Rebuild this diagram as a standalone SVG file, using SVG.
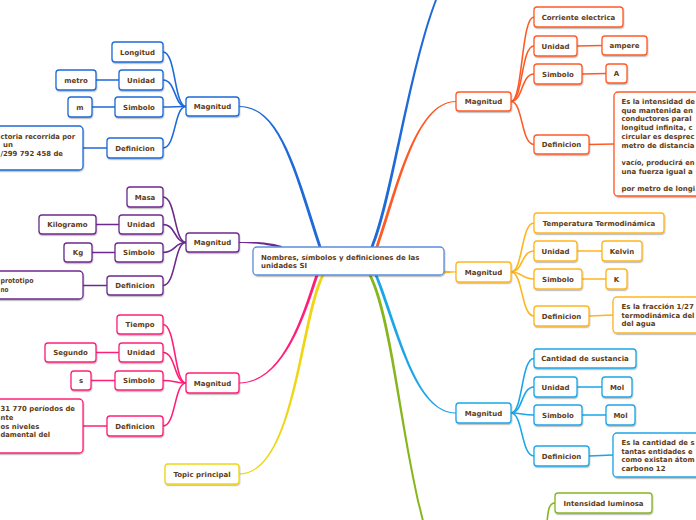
<svg xmlns="http://www.w3.org/2000/svg" width="696" height="520" viewBox="0 0 696 520">
<defs>
<filter id="sh" x="-20%" y="-20%" width="140%" height="160%">
<feDropShadow dx="0.5" dy="1.2" stdDeviation="0.7" flood-color="#000" flood-opacity="0.28"/>
</filter>
<style>
rect{fill:#fff;stroke-width:1.3;filter:url(#sh)}
text{font-family:"DejaVu Sans","Verdana",sans-serif;font-weight:bold;font-size:7px;fill:#603b18}
.c{text-anchor:middle}
.ln{fill:none;stroke-width:1.6;stroke-linecap:round}
.b{stroke:#1e6ad8}.bf{fill:#1e6ad8}
.p{stroke:#6d2a8e}.pf{fill:#6d2a8e}
.k{stroke:#ff1f78}.kf{fill:#ff1f78}
.y{stroke:#efd615}.yf{fill:#efd615}
.o{stroke:#ff5a26}.of{fill:#ff5a26}
.g{stroke:#ffb51c}.gf{fill:#ffb51c}
.cy{stroke:#1aa6e8}.cyf{fill:#1aa6e8}
.gr{stroke:#86b51c}.grf{fill:#86b51c}
.cen{stroke:#5b8fe0}
</style>
</defs>
<rect width="696" height="520" style="fill:#fff;stroke:none;filter:none"/>

<g id="connectors">
<path class="bf" d="M318.5,247 C293.5,170 279,107 239,107 L239,106 C281,106 296.5,170 321.5,247 Z"/>
<path class="bf" d="M370.5,247 C390.5,200 409,60 439,-10 L441,-10 C411,60 393.5,200 373.5,247 Z"/>
<path class="of" d="M375.5,247 C395.5,190 414,101 456,101 L456,102 C416,102 398.5,190 378.5,247 Z"/>
<path class="pf" d="M282,248 C265,244.5 255,243 239,243 L239,242 C255,242 265,241.5 282,246 Z"/>
<path class="kf" d="M315.5,275 C303.5,310 284,382.5 239,382.5 L239,383.5 C286,383.5 306.5,310 318.5,275 Z"/>
<path class="yf" d="M321.5,275 C298.5,320 294,473.5 239,473.5 L239,474.5 C296,474.5 301.5,320 324.5,275 Z"/>
<path class="cyf" d="M374.5,275 C396.5,330 414,413.5 456,413.5 L456,412.5 C416,412.5 399.5,330 377.5,275 Z"/>
<path class="grf" d="M368.5,275 C390.5,320 399,430 423,525 L425,525 C401,430 393.5,320 371.5,275 Z"/>
<path class="gf" d="M444,270.8 C450,271 452,271.5 456,271.5 L456,272.5 C452,272.5 450,273 444,273.4 Z"/>

<path class="ln b" d="M186,106.5 C174,106.5 176,52 163,52"/>
<path class="ln b" d="M186,106.5 C174,106.5 176,80 163,80"/>
<path class="ln b" d="M186,106.5 C174,106.5 176,107 163,107"/>
<path class="ln b" d="M186,106.5 C174,106.5 176,148 163,148"/>
<path class="ln b" d="M119,80 H96 M115,107 H92 M107,148 H83"/>
<path class="ln p" d="M186,242.5 C174,242.5 176,197 163,197"/>
<path class="ln p" d="M186,242.5 C174,242.5 176,224.5 163,224.5"/>
<path class="ln p" d="M186,242.5 C174,242.5 176,252.5 163,252.5"/>
<path class="ln p" d="M186,242.5 C174,242.5 176,285.5 163,285.5"/>
<path class="ln p" d="M119,224.5 H96 M115,252.5 H92 M107,285.5 H83"/>
<path class="ln k" d="M186,383 C174,383 176,324.5 163,324.5"/>
<path class="ln k" d="M186,383 C174,383 176,352.5 163,352.5"/>
<path class="ln k" d="M186,383 C174,383 176,380.5 163,380.5"/>
<path class="ln k" d="M186,383 C174,383 176,426 163,426"/>
<path class="ln k" d="M119,352.5 H96 M115,380.5 H91 M107,426 H83"/>
<path class="ln o" d="M511,101.5 C523,101.5 521,17 534,17"/>
<path class="ln o" d="M511,101.5 C523,101.5 521,46 534,46"/>
<path class="ln o" d="M511,101.5 C523,101.5 521,74 534,74"/>
<path class="ln o" d="M511,101.5 C523,101.5 521,144.5 534,144.5"/>
<path class="ln o" d="M577,46 L602,45.5 M582,74 L606,73.5 M589,144.5 L614,144"/>
<path class="ln g" d="M511,272 C523,272 521,223 534,223"/>
<path class="ln g" d="M511,272 C523,272 521,251 534,251"/>
<path class="ln g" d="M511,272 C523,272 521,279 534,279"/>
<path class="ln g" d="M511,272 C523,272 521,316 534,316"/>
<path class="ln g" d="M577,251 H602 M582,279 H606 M589,316 L613,315"/>
<path class="ln cy" d="M511,413 C523,413 521,358.5 534,358.5"/>
<path class="ln cy" d="M511,413 C523,413 521,387 534,387"/>
<path class="ln cy" d="M511,413 C523,413 521,415 534,415"/>
<path class="ln cy" d="M511,413 C523,413 521,456 534,456"/>
<path class="ln cy" d="M577,387 H602 M582,415 H606 M589,456 L613,455"/>
<path class="ln gr" d="M547,523 C548,510 549,503 555,503"/>
</g>

<g id="central">
<rect class="cen" x="253" y="247" width="191" height="28" rx="4"/>
<text x="261" y="259.5">Nombres, símbolos y definiciones de las</text>
<text x="261" y="268">unidades SI</text>
</g>

<g id="b-mag"><rect class="b" x="186" y="97" width="53" height="19" rx="3"/><text class="c" x="212.5" y="109">Magnitud</text></g>
<g id="b-long"><rect class="b" x="112" y="42" width="51" height="20" rx="3"/><text class="c" x="137.5" y="54.5">Longitud</text></g>
<g id="b-uni"><rect class="b" x="119" y="70" width="44" height="20" rx="3"/><text class="c" x="141" y="82.5">Unidad</text></g>
<g id="b-metro"><rect class="b" x="56" y="70" width="40" height="20" rx="3"/><text class="c" x="76" y="82.5">metro</text></g>
<g id="b-sim"><rect class="b" x="115" y="97" width="48" height="20" rx="3"/><text class="c" x="139" y="109.5">Simbolo</text></g>
<g id="b-m"><rect class="b" x="68" y="97" width="24" height="20" rx="3"/><text class="c" x="80" y="109.5">m</text></g>
<g id="b-def"><rect class="b" x="107" y="138" width="56" height="20" rx="3"/><text class="c" x="135" y="150.5">Definicion</text></g>
<g id="b-deftxt"><rect class="b" x="-10" y="126" width="93" height="44" rx="4"/>
<text x="0.5" y="138.5" textLength="74.5" lengthAdjust="spacingAndGlyphs">ctoria recorrida por</text>
<text x="3" y="147">un</text>
<text x="0.5" y="155.5" textLength="62.5" lengthAdjust="spacingAndGlyphs">/299 792 458 de</text></g>

<g id="p-mag"><rect class="p" x="186" y="233" width="53" height="19" rx="3"/><text class="c" x="212.5" y="245">Magnitud</text></g>
<g id="p-masa"><rect class="p" x="127" y="187" width="36" height="20" rx="3"/><text class="c" x="145" y="199.5">Masa</text></g>
<g id="p-uni"><rect class="p" x="119" y="215" width="44" height="19" rx="3"/><text class="c" x="141" y="227">Unidad</text></g>
<g id="p-kilo"><rect class="p" x="39" y="215" width="57" height="19" rx="3"/><text class="c" x="67.5" y="227">Kilogramo</text></g>
<g id="p-sim"><rect class="p" x="115" y="243" width="48" height="19" rx="3"/><text class="c" x="139" y="255">Simbolo</text></g>
<g id="p-kg"><rect class="p" x="64" y="243" width="28" height="19" rx="3"/><text class="c" x="78" y="255">Kg</text></g>
<g id="p-def"><rect class="p" x="107" y="276" width="56" height="19" rx="3"/><text class="c" x="135" y="288">Definicion</text></g>
<g id="p-deftxt"><rect class="p" x="-10" y="271" width="93" height="28" rx="4"/>
<text x="0.5" y="282.5" textLength="33" lengthAdjust="spacingAndGlyphs">prototipo</text>
<text x="0.5" y="291.5" textLength="8" lengthAdjust="spacingAndGlyphs">no</text></g>

<g id="k-mag"><rect class="k" x="186" y="373" width="53" height="20" rx="3"/><text class="c" x="212.5" y="385.5">Magnitud</text></g>
<g id="k-tiempo"><rect class="k" x="117" y="315" width="46" height="19" rx="3"/><text class="c" x="140" y="327">Tiempo</text></g>
<g id="k-uni"><rect class="k" x="119" y="343" width="44" height="19" rx="3"/><text class="c" x="141" y="355">Unidad</text></g>
<g id="k-seg"><rect class="k" x="45" y="343" width="51" height="19" rx="3"/><text class="c" x="70.5" y="355">Segundo</text></g>
<g id="k-sim"><rect class="k" x="115" y="371" width="48" height="19" rx="3"/><text class="c" x="139" y="383">Simbolo</text></g>
<g id="k-s"><rect class="k" x="71" y="371" width="20" height="19" rx="3"/><text class="c" x="81" y="383">s</text></g>
<g id="k-def"><rect class="k" x="107" y="416" width="56" height="20" rx="3"/><text class="c" x="135" y="428.5">Definicion</text></g>
<g id="k-deftxt"><rect class="k" x="-10" y="399" width="93" height="54" rx="4"/>
<text x="0.5" y="411" textLength="74.5" lengthAdjust="spacingAndGlyphs">31 770 períodos de</text>
<text x="0.5" y="420" textLength="12.8" lengthAdjust="spacingAndGlyphs">nte</text>
<text x="0.5" y="428.5" textLength="38.8" lengthAdjust="spacingAndGlyphs">os niveles</text>
<text x="0.5" y="437" textLength="49.5" lengthAdjust="spacingAndGlyphs">damental del</text></g>

<g id="topic"><rect class="y" x="165" y="464" width="74" height="20" rx="3"/><text class="c" x="202" y="476.5">Topic principal</text></g>

<g id="o-mag"><rect class="o" x="456" y="92" width="55" height="19" rx="3"/><text class="c" x="483.5" y="104">Magnitud</text></g>
<g id="o-corr"><rect class="o" x="534" y="7" width="89" height="20" rx="3"/><text class="c" x="578.5" y="19.5">Corriente electrica</text></g>
<g id="o-uni"><rect class="o" x="534" y="36" width="43" height="20" rx="3"/><text class="c" x="555.5" y="48.5">Unidad</text></g>
<g id="o-amp"><rect class="o" x="602" y="36" width="45" height="19" rx="3"/><text class="c" x="624.5" y="48">ampere</text></g>
<g id="o-sim"><rect class="o" x="534" y="64" width="48" height="20" rx="3"/><text class="c" x="558" y="76.5">Simbolo</text></g>
<g id="o-a"><rect class="o" x="606" y="64" width="21" height="19" rx="3"/><text class="c" x="616.5" y="76">A</text></g>
<g id="o-def"><rect class="o" x="534" y="135" width="55" height="19" rx="3"/><text class="c" x="561.5" y="147">Definicion</text></g>
<g id="o-deftxt"><rect class="o" x="614" y="92" width="100" height="104" rx="4"/>
<text x="621.5" y="104" textLength="73.5" lengthAdjust="spacingAndGlyphs">Es la intensidad de</text>
<text x="621.5" y="112.7">que mantenida en</text>
<text x="621.5" y="121.4" textLength="70" lengthAdjust="spacingAndGlyphs">conductores paral</text>
<text x="621.5" y="130.1" textLength="71" lengthAdjust="spacingAndGlyphs">longitud infinita, c</text>
<text x="621.5" y="138.8" textLength="73" lengthAdjust="spacingAndGlyphs">circular es desprec</text>
<text x="621.5" y="147.5" textLength="73" lengthAdjust="spacingAndGlyphs">metro de distancia</text>
<text x="621.5" y="164.9" textLength="73" lengthAdjust="spacingAndGlyphs">vacío, producirá en</text>
<text x="621.5" y="173.6">una fuerza igual a</text>
<text x="621.5" y="191">por metro de longi</text></g>

<g id="g-mag"><rect class="g" x="456" y="262" width="55" height="20" rx="3"/><text class="c" x="483.5" y="274.5">Magnitud</text></g>
<g id="g-temp"><rect class="g" x="534" y="213" width="130" height="20" rx="3"/><text class="c" x="599" y="225.5">Temperatura Termodinámica</text></g>
<g id="g-uni"><rect class="g" x="534" y="241" width="43" height="20" rx="3"/><text class="c" x="555.5" y="253.5">Unidad</text></g>
<g id="g-kel"><rect class="g" x="602" y="241" width="40" height="20" rx="3"/><text class="c" x="622" y="253.5">Kelvin</text></g>
<g id="g-sim"><rect class="g" x="534" y="269" width="48" height="20" rx="3"/><text class="c" x="558" y="281.5">Simbolo</text></g>
<g id="g-k"><rect class="g" x="606" y="269" width="21" height="20" rx="3"/><text class="c" x="616.5" y="281.5">K</text></g>
<g id="g-def"><rect class="g" x="534" y="306" width="55" height="20" rx="3"/><text class="c" x="561.5" y="318.5">Definicion</text></g>
<g id="g-deftxt"><rect class="g" x="613" y="297" width="100" height="36" rx="4"/>
<text x="621.5" y="309">Es la fracción 1/27</text>
<text x="621.5" y="317.5" textLength="73" lengthAdjust="spacingAndGlyphs">termodinámica del</text>
<text x="621.5" y="326">del agua</text></g>

<g id="c-mag"><rect class="cy" x="456" y="403" width="55" height="20" rx="3"/><text class="c" x="483.5" y="415.5">Magnitud</text></g>
<g id="c-cant"><rect class="cy" x="534" y="349" width="102" height="19" rx="3"/><text class="c" x="585" y="361">Cantidad de sustancia</text></g>
<g id="c-uni"><rect class="cy" x="534" y="377" width="43" height="20" rx="3"/><text class="c" x="555.5" y="389.5">Unidad</text></g>
<g id="c-mol1"><rect class="cy" x="602" y="377" width="30" height="20" rx="3"/><text class="c" x="617" y="389.5">Mol</text></g>
<g id="c-sim"><rect class="cy" x="534" y="405" width="48" height="20" rx="3"/><text class="c" x="558" y="417.5">Simbolo</text></g>
<g id="c-mol2"><rect class="cy" x="606" y="405" width="29" height="20" rx="3"/><text class="c" x="620.5" y="417.5">Mol</text></g>
<g id="c-def"><rect class="cy" x="534" y="446" width="55" height="20" rx="3"/><text class="c" x="561.5" y="458.5">Definicion</text></g>
<g id="c-deftxt"><rect class="cy" x="613" y="433" width="100" height="44" rx="4"/>
<text x="621.5" y="445" textLength="73" lengthAdjust="spacingAndGlyphs">Es la cantidad de s</text>
<text x="621.5" y="453.5" textLength="71" lengthAdjust="spacingAndGlyphs">tantas entidades e</text>
<text x="621.5" y="462" textLength="73" lengthAdjust="spacingAndGlyphs">como existan átom</text>
<text x="621.5" y="470.5">carbono 12</text></g>

<g id="gr-int"><rect class="gr" x="555" y="493" width="97" height="20" rx="3"/><text class="c" x="603.5" y="505.5">Intensidad luminosa</text></g>
</svg>
